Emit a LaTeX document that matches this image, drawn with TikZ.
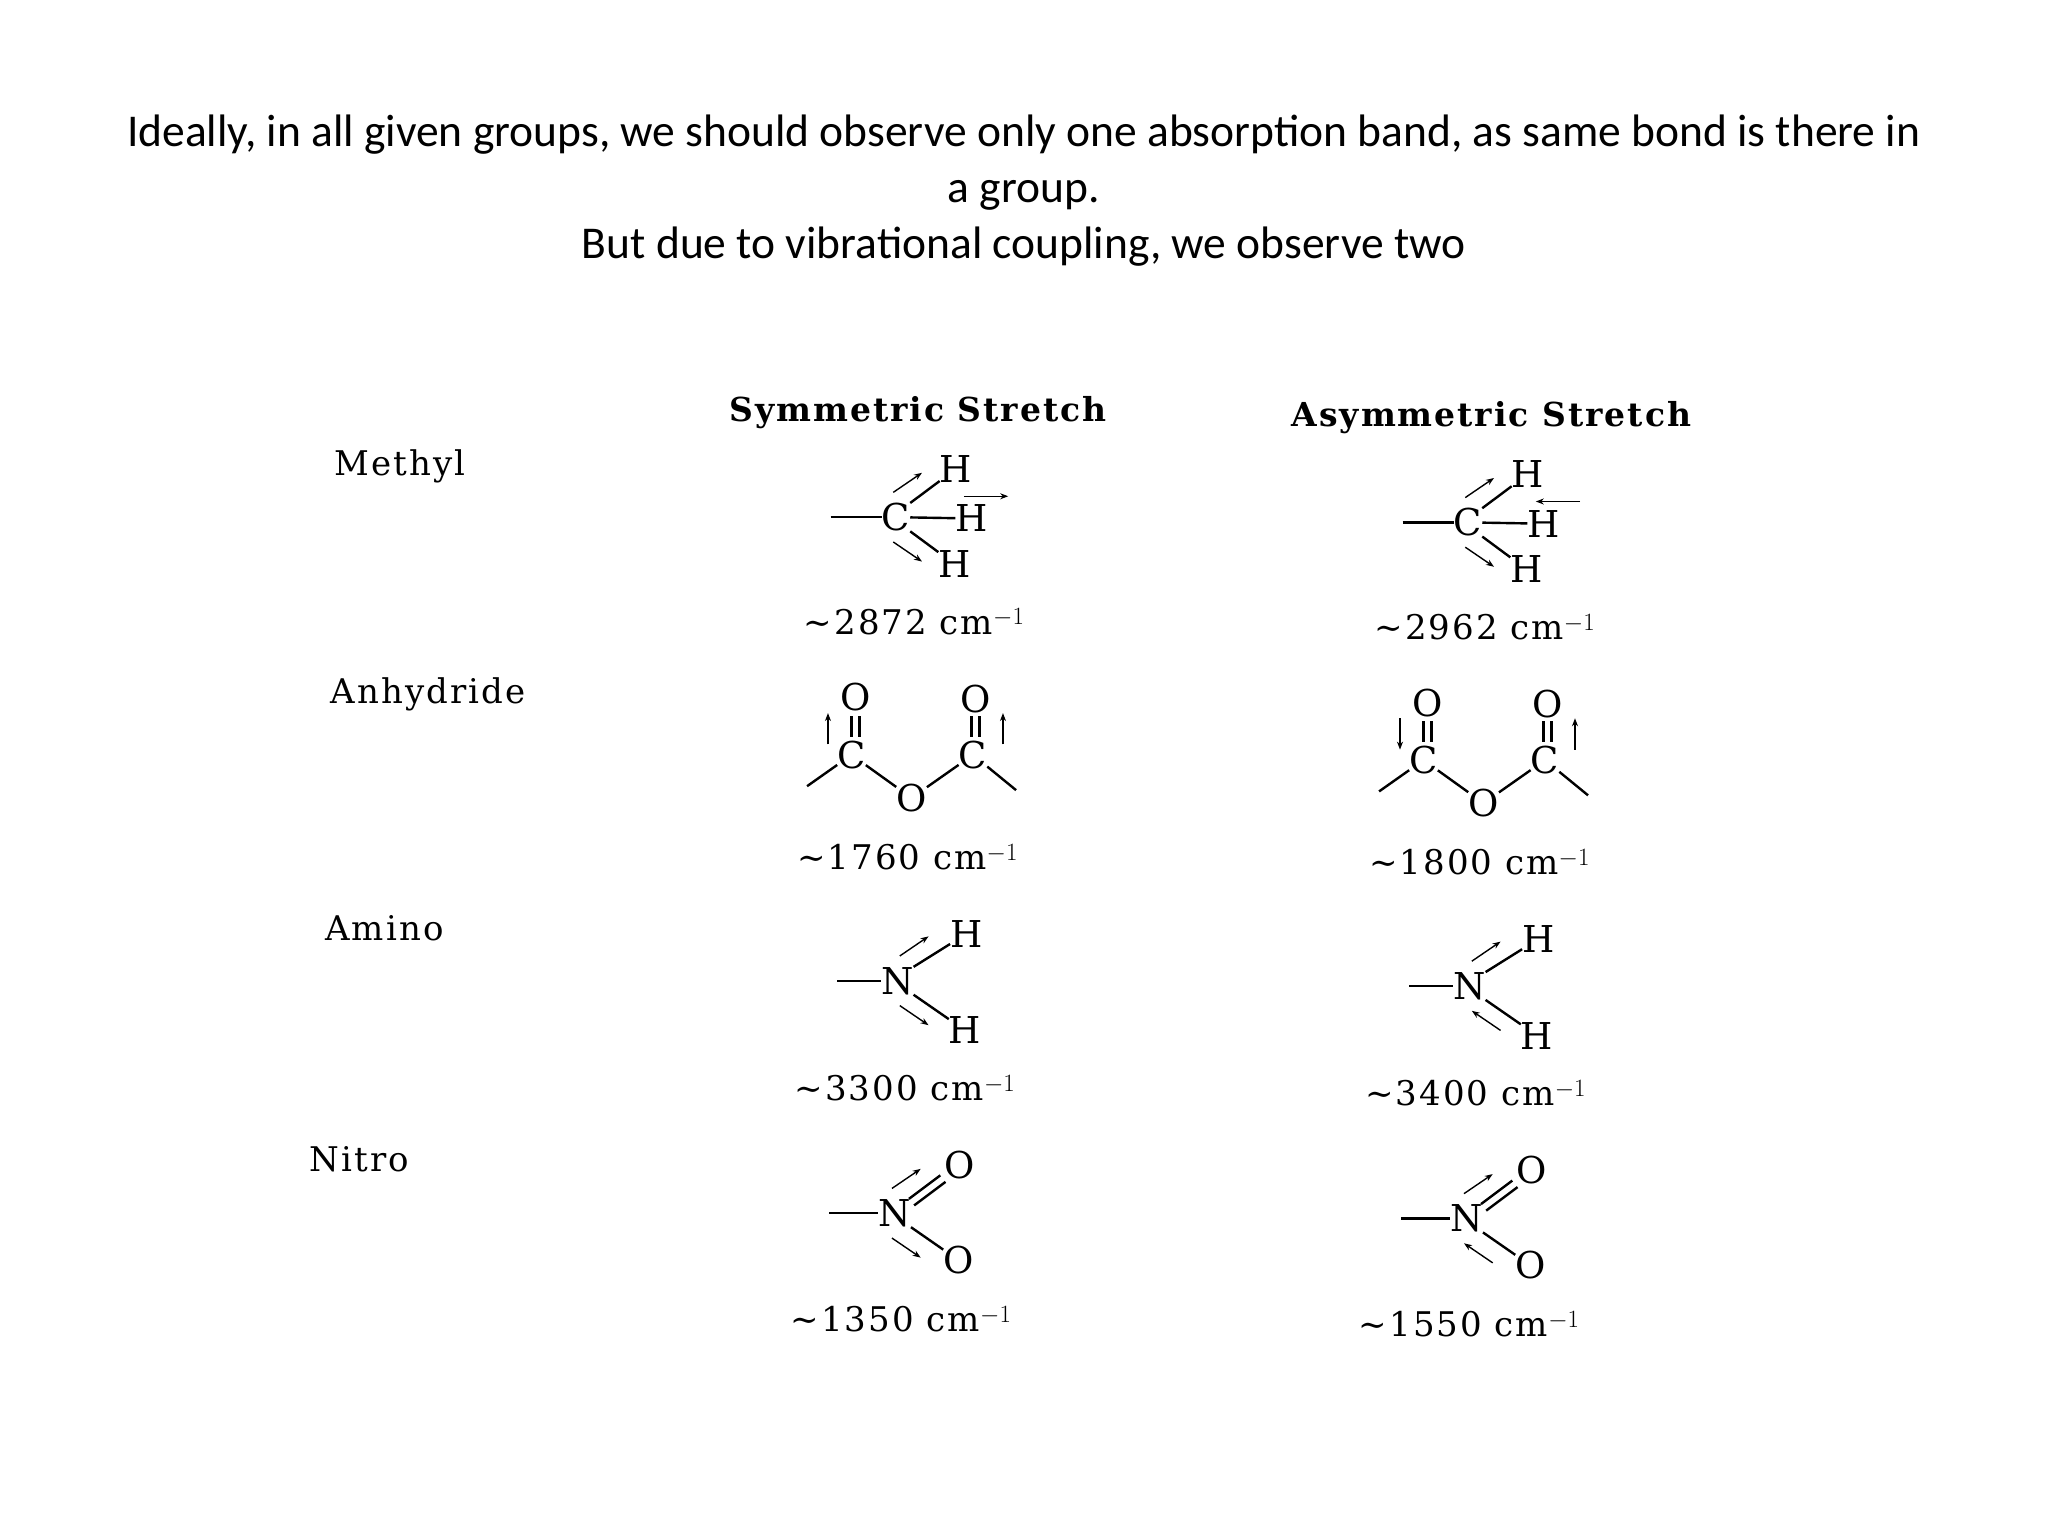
\documentclass[tikz,border=0pt]{standalone}
\usepackage{fontspec}
\setmainfont{Carlito}
\newfontfamily\serifr[LetterSpace=6]{DejaVu Serif}
\newfontfamily\serifa{DejaVu Serif}
\usetikzlibrary{arrows.meta}
\tikzset{
 atom/.style={font=\serifa\fontsize{37}{37}\selectfont, inner sep=0pt},
 freq/.style={font=\serifr\fontsize{34}{34}\selectfont, inner sep=0pt},
 head/.style={font=\serifr\bfseries\fontsize{33}{33}\selectfont, inner sep=0pt},
 grp/.style={font=\serifr\fontsize{34}{34}\selectfont, inner sep=0pt, anchor=west},
 ttl/.style={font=\fontsize{45.5}{56}\selectfont, align=center, inner sep=0pt},
 bond/.style={line width=2.4pt},
 varr/.style={-{Stealth[length=8pt,width=6pt]}, line width=1.4pt}
}
\newcommand\methylmol[4]{%
\begin{scope}[shift={(#2,#3)}]
\node[atom] (#1C) at (0,0) {C};
\node[atom] (#1Ht) at (46,-37) {H};
\node[atom] (#1Hr) at (58,1) {H};
\node[atom] (#1Hb) at (45,36) {H};
\coordinate (#1L) at (-50,0);
\draw[bond] (#1L) -- (#1C);
\draw[bond] (#1C) -- (#1Hr);
\draw[bond] (#1C.north east) -- (#1Ht);
\draw[bond] (#1C.south east) -- (#1Hb);
\draw[varr] (-2,-19) -- (20,-34);
\draw[varr] (-2,19) -- (20,34);
\ifnum#4=1 \draw[varr] (52,-16) -- (86,-16); \else \draw[varr] (86,-16) -- (52,-16); \fi
\end{scope}}
\newcommand\anhmol[4]{%
\begin{scope}[shift={(#2,#3)}]
\node[atom] (#1C) at (0,0) {C};
\node[atom] (#1Ot) at (3,-44) {O};
\node[atom] (#1Ob) at (46,33) {O};
\node[atom] (#1Cr) at (93,0) {C};
\node[atom] (#1Ort) at (95,-43) {O};
\coordinate (#1L) at (-34,24);
\coordinate (#1R) at (126,27);
\draw[bond] (#1L) -- (#1C);
\draw[bond] (#1C) -- (#1Ob);
\draw[bond] (#1Ob) -- (#1Cr);
\draw[bond] (#1Cr) -- (#1R);
\draw[bond] (0,-14) -- (0,-30); \draw[bond] (6,-14) -- (6,-30);
\draw[bond] (92,-14) -- (92,-30); \draw[bond] (98,-14) -- (98,-30);
\ifnum#4=1 \draw[varr] (-18,-8) -- (-18,-32); \else \draw[varr] (-18,-32) -- (-18,-8); \fi
\draw[varr] (116,-8) -- (116,-32);
\end{scope}}
\newcommand\aminomol[4]{%
\begin{scope}[shift={(#2,#3)}]
\node[atom] (#1N) at (0,0) {N};
\node[atom] (#1Ht) at (53,-36) {H};
\node[atom] (#1Hb) at (52,38) {H};
\coordinate (#1L) at (-46,0);
\draw[bond] (#1L) -- (#1N);
\draw[bond] (#1N.north east) -- (#1Ht);
\draw[bond] (#1N.south east) -- (#1Hb);
\draw[varr] (2,-19) -- (24,-34);
\ifnum#4=1 \draw[varr] (2,19) -- (24,34); \else \draw[varr] (24,34) -- (2,19); \fi
\end{scope}}
\newcommand\nitromol[4]{%
\begin{scope}[shift={(#2,#3)}]
\node[atom] (#1N) at (0,0) {N};
\node[atom] (#1Ot) at (50,-37) {O};
\node[atom] (#1Ob) at (49,36) {O};
\coordinate (#1L) at (-50,0);
\draw[bond] (#1L) -- (#1N);
\draw[bond] (11,-11) -- (35,-29);
\draw[bond] (15,-6) -- (39,-24);
\draw[bond] (#1N.south east) -- (#1Ob);
\draw[varr] (-2,-19) -- (20,-34);
\ifnum#4=1 \draw[varr] (-2,19) -- (20,34); \else \draw[varr] (20,34) -- (-2,19); \fi
\end{scope}}
\begin{document}
\begin{tikzpicture}[x=1.306pt,y=-1.306pt]
\useasboundingbox (0,0) rectangle (1568.2,1176.1);
\node[ttl] (title) at (784,146) {Ideally, in all given groups, we should observe only one absorption band, as same bond is there in\\a group.\\But due to vibrational coupling, we observe two};
\node[head] (hs) at (703,316) {Symmetric Stretch};
\node[head] (ha) at (1142,320) {Asymmetric Stretch};
\node[grp] (g1) at (256,357) {Methyl};
\node[grp] (g2) at (253,532) {Anhydride};
\node[grp] (g3) at (249,711) {Amino};
\node[grp] (g4) at (237,888) {Nitro};
\methylmol{ms}{686}{396}{1}
\methylmol{ma}{1124}{400}{0}
\anhmol{as}{652}{578}{1}
\anhmol{aa}{1090}{582}{0}
\aminomol{ns}{687}{751}{1}
\aminomol{na}{1125}{755}{0}
\nitromol{os}{685}{929}{1}
\nitromol{oa}{1123}{933}{0}
\node[freq] (f1) at (700,476) {\textasciitilde2872 cm$^{-1}$};
\node[freq] (f2) at (1137,480) {\textasciitilde2962 cm$^{-1}$};
\node[freq] (f3) at (695,656) {\textasciitilde1760 cm$^{-1}$};
\node[freq] (f4) at (1133,660) {\textasciitilde1800 cm$^{-1}$};
\node[freq] (f5) at (693,833) {\textasciitilde3300 cm$^{-1}$};
\node[freq] (f6) at (1130,837) {\textasciitilde3400 cm$^{-1}$};
\node[freq] (f7) at (690,1010) {\textasciitilde1350 cm$^{-1}$};
\node[freq] (f8) at (1125,1014) {\textasciitilde1550 cm$^{-1}$};
\end{tikzpicture}
\end{document}
